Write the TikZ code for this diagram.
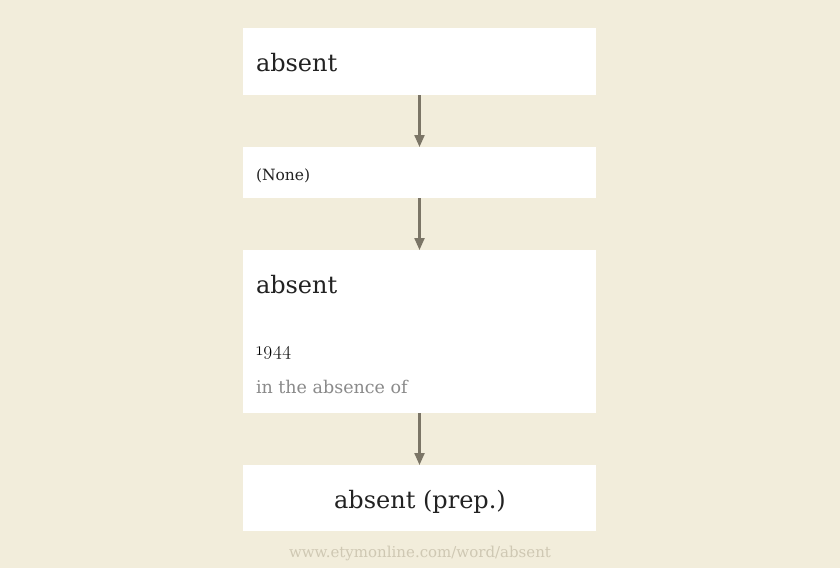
\documentclass[tikz,border=0pt]{standalone}
\usepackage{fontspec}
\setmainfont{DejaVu Serif}
\newfontfamily\lmfont{Latin Modern Roman}
\usetikzlibrary{arrows.meta}
\definecolor{bgc}{HTML}{F2EDDB}
\definecolor{arrc}{HTML}{7B7566}
\definecolor{txt}{HTML}{222222}
\definecolor{greytxt}{HTML}{8A8A8A}
\definecolor{foot}{HTML}{CFC8B3}
\tikzset{
  box/.style={fill=white, draw=none, inner sep=0pt, outer sep=0pt, anchor=north west, minimum width=353pt},
  lbl/.style={inner sep=0pt, outer sep=0pt, anchor=base west, text=txt},
  flow/.style={draw=arrc, line width=2.2pt, -{Triangle[width=10pt,length=12pt]}}
}
\begin{document}
\begin{tikzpicture}[x=1pt,y=-1pt]
\fill[bgc] (0,0) rectangle (840,568);
\useasboundingbox (0,0) rectangle (840,568);
\node[box, minimum height=67pt] (b1) at (243,28) {};
\node[box, minimum height=51pt] (b2) at (243,147) {};
\node[box, minimum height=163pt] (b3) at (243,250) {};
\node[box, minimum height=66pt] (b4) at (243,465) {};
\node[lbl, font=\fontsize{24}{28}\selectfont] (t1) at (256,71) {absent};
\node[lbl, font=\fontsize{15.5}{18}\selectfont] (t2) at (256,180) {(None)};
\node[lbl, font=\fontsize{24}{28}\selectfont] (t3) at (256,293) {absent};
\node[lbl, font=\fontsize{19}{22}\lmfont, text=black] (t4) at (256,355) {\oldstylenums{1944}};
\node[lbl, font=\fontsize{17.5}{21}\selectfont, text=greytxt] (t5) at (256,393) {in the absence of};
\node[lbl, anchor=base, font=\fontsize{24}{28}\selectfont] (t6) at (420,508) {absent (prep.)};
\node[lbl, anchor=base, font=\fontsize{15}{18}\selectfont, text=foot] (ft) at (420,557) {www.etymonline.com/word/absent};
\draw[flow] (b1.south) -- (b2.north);
\draw[flow] (b2.south) -- (b3.north);
\draw[flow] (b3.south) -- (b4.north);
\end{tikzpicture}
\end{document}
